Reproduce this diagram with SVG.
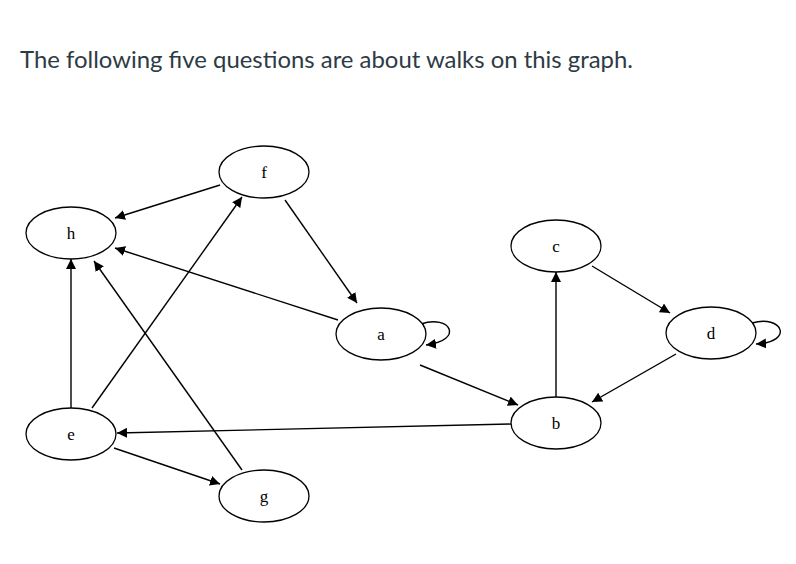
<svg xmlns="http://www.w3.org/2000/svg" width="796" height="564" viewBox="0 0 796 564">
<style>
.n ellipse{fill:#fff;stroke:#000;stroke-width:1.3}
.n text{font-family:"Liberation Serif",serif;font-size:17px;text-anchor:middle}
.c path{fill:none;stroke:#000;stroke-width:1.4;marker-end:url(#ah)}
</style>
<defs><marker id="ah" viewBox="0 0 10 10" refX="10" refY="5" markerWidth="10" markerHeight="10" markerUnits="userSpaceOnUse" orient="auto"><path d="M0,0L10,5L0,10z" fill="#000"/></marker></defs>
<rect width="796" height="564" fill="#fff"/>
<text x="20" y="68" font-family="Lato,sans-serif" font-size="23" textLength="613" lengthAdjust="spacingAndGlyphs" fill="#2d3b45">The following five questions are about walks on this graph.</text>
<g class="c">
<path d="M220,185L115,218"/>
<path d="M285,200L357,303"/>
<path d="M338,320L115,248"/>
<path d="M421,324C450,314 465,340 426,345"/>
<path d="M420,365L518,405"/>
<path d="M592,266L670,313"/>
<path d="M752,323C782,314 795,342 756,344"/>
<path d="M676,354L592,402"/>
<path d="M556,398L556,272"/>
<path d="M512,424L117,433"/>
<path d="M71,408L71,259"/>
<path d="M92,408L242,197"/>
<path d="M114,448L220,484"/>
<path d="M242,470L94,261"/>
</g>
<g id="f" class="n"><ellipse cx="264" cy="172" rx="45" ry="26"/><text x="264" y="178">f</text></g>
<g id="h" class="n"><ellipse cx="71" cy="233" rx="45" ry="26"/><text x="71" y="239">h</text></g>
<g id="c" class="n"><ellipse cx="556" cy="246" rx="45" ry="26"/><text x="556" y="252">c</text></g>
<g id="a" class="n"><ellipse cx="381" cy="334" rx="45" ry="26"/><text x="381" y="340">a</text></g>
<g id="d" class="n"><ellipse cx="711" cy="333" rx="45" ry="26"/><text x="711" y="339">d</text></g>
<g id="e" class="n"><ellipse cx="71" cy="434" rx="45" ry="26"/><text x="71" y="440">e</text></g>
<g id="b" class="n"><ellipse cx="556" cy="423" rx="45" ry="26"/><text x="556" y="429">b</text></g>
<g id="g" class="n"><ellipse cx="264" cy="496" rx="45" ry="26"/><text x="264" y="502">g</text></g>
</svg>
